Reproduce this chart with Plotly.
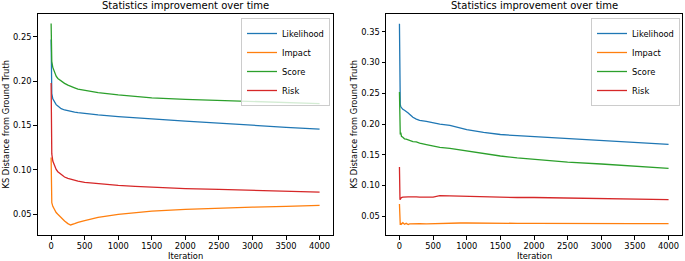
import plotly.graph_objects as go

# ---------------- data ----------------
series_names = ["Likelihood", "Impact", "Score", "Risk"]
series_colors = ["#1f77b4", "#ff7f0e", "#2ca02c", "#d62728"]

# Left panel
iter_left = [0, 1, 5, 10, 25, 50, 75, 100, 150, 200, 250, 290, 350, 400, 500,
             700, 1000, 1250, 1500, 2000, 2500, 3000, 3500, 4000]
likelihood_left = [0.247, 0.200, 0.190, 0.186, 0.180, 0.176, 0.1735, 0.172, 0.169, 0.1675,
                   0.1665, 0.166, 0.165, 0.1645, 0.1635, 0.162, 0.160, 0.1585, 0.1575,
                   0.155, 0.1525, 0.150, 0.148, 0.146]
impact_left = [0.114, 0.071, 0.066, 0.063, 0.059, 0.055, 0.052, 0.050, 0.046, 0.0425,
               0.0395, 0.038, 0.0395, 0.041, 0.043, 0.0465, 0.050, 0.052, 0.0535,
               0.0555, 0.057, 0.058, 0.059, 0.060]
score_left = [0.265, 0.240, 0.228, 0.222, 0.2155, 0.209, 0.2055, 0.203, 0.200, 0.1975,
              0.1955, 0.194, 0.1925, 0.191, 0.1895, 0.187, 0.1845, 0.1825, 0.1812,
              0.1795, 0.1785, 0.1772, 0.176, 0.1747]
risk_left = [0.198, 0.150, 0.125, 0.118, 0.110, 0.104, 0.1005, 0.098, 0.0945, 0.092,
             0.0905, 0.0895, 0.0885, 0.0875, 0.086, 0.0845, 0.0825, 0.0815, 0.0805,
             0.079, 0.078, 0.077, 0.076, 0.075]

# Right panel
iter_right = [0, 1, 3, 5, 8, 12, 20, 30, 50, 75, 100, 130, 150, 200, 250, 300, 400,
              500, 600, 750, 900, 1000, 1250, 1500, 1750, 2000, 2500, 3000, 3500, 4000]
likelihood_right = [0.363, 0.240, 0.265, 0.245, 0.238, 0.232, 0.228, 0.226, 0.224, 0.2225,
                    0.221, 0.218, 0.216, 0.211, 0.208, 0.206, 0.2045, 0.202, 0.200, 0.198,
                    0.194, 0.191, 0.1865, 0.183, 0.181, 0.1795, 0.176, 0.1725, 0.170, 0.167]
impact_right = [0.070, 0.050, 0.042, 0.037, 0.040, 0.036, 0.039, 0.037, 0.0395, 0.037,
                0.0385, 0.0365, 0.0375, 0.038, 0.038, 0.038, 0.0375, 0.038, 0.0385, 0.039,
                0.039, 0.039, 0.0385, 0.0385, 0.0385, 0.0385, 0.038, 0.038, 0.038, 0.038]
score_right = [0.252, 0.190, 0.196, 0.185, 0.192, 0.183, 0.186, 0.180, 0.1785, 0.176,
               0.1755, 0.174, 0.173, 0.1715, 0.171, 0.169, 0.1665, 0.1645, 0.162, 0.1605,
               0.158, 0.156, 0.152, 0.148, 0.145, 0.1425, 0.138, 0.135, 0.132, 0.128]
risk_right = [0.130, 0.100, 0.085, 0.079, 0.077, 0.0775, 0.079, 0.0805, 0.081, 0.0815,
              0.081, 0.0815, 0.0815, 0.082, 0.0815, 0.081, 0.0815, 0.081, 0.0835, 0.083,
              0.083, 0.0825, 0.082, 0.081, 0.0805, 0.0805, 0.0795, 0.0785, 0.078, 0.077]

x_ticks = [0, 500, 1000, 1500, 2000, 2500, 3000, 3500, 4000]
y_ticks_left = [0.05, 0.10, 0.15, 0.20, 0.25]
y_ticks_right = [0.05, 0.10, 0.15, 0.20, 0.25, 0.30, 0.35]

title_text = "Statistics improvement over time"
y_title = "KS Distance from Ground Truth"
x_title = "Iteration"

# ---------------- figure ----------------
W, H = 685, 261
FONT = "DejaVu Sans"

fig = go.Figure()

left_sets = [likelihood_left, impact_left, score_left, risk_left]
right_sets = [likelihood_right, impact_right, score_right, risk_right]

for name, color, ys in zip(series_names, series_colors, left_sets):
    fig.add_trace(go.Scatter(x=iter_left, y=ys, mode="lines", name=name,
                             line=dict(color=color, width=1.3),
                             xaxis="x", yaxis="y", legend="legend"))
for name, color, ys in zip(series_names, series_colors, right_sets):
    fig.add_trace(go.Scatter(x=iter_right, y=ys, mode="lines", name=name,
                             line=dict(color=color, width=1.3),
                             xaxis="x2", yaxis="y2", legend="legend2"))

left_dom = [37.7 / W, 333 / W]
right_dom = [386 / W, 682 / W]
y_dom = [26 / H, 247 / H]

axis_common = dict(showgrid=False, zeroline=False, showline=True, linecolor="black",
                   linewidth=1, mirror=True, ticks="outside", ticklen=3.5,
                   tickcolor="black", tickwidth=0.8,
                   tickfont=dict(family=FONT, size=8.3, color="black"))

legend_common = dict(bgcolor="rgba(255,255,255,0.8)", bordercolor="#cccccc",
                     borderwidth=1, font=dict(family=FONT, size=8.3, color="black"),
                     xanchor="right", yanchor="top", itemwidth=30,
                     tracegroupgap=0)

fig.update_layout(
    width=W, height=H,
    margin=dict(l=0, r=0, t=0, b=0),
    paper_bgcolor="white", plot_bgcolor="white",
    font=dict(family=FONT, color="black"),
    xaxis=dict(domain=left_dom, range=[-200, 4200], tickvals=x_ticks,
               anchor="y", **axis_common),
    yaxis=dict(domain=y_dom, range=[0.0267, 0.2756], tickvals=y_ticks_left,
               tickformat=".2f", anchor="x", **axis_common),
    xaxis2=dict(domain=right_dom, range=[-200, 4200], tickvals=x_ticks,
                anchor="y2", **axis_common),
    yaxis2=dict(domain=y_dom, range=[0.0195, 0.379], tickvals=y_ticks_right,
                tickformat=".2f", anchor="x2", **axis_common),
    legend=dict(x=330 / W, y=(H - 18) / H, **legend_common),
    legend2=dict(x=680 / W, y=(H - 18) / H, **legend_common),
    showlegend=True,
)

ann_font_title = dict(family=FONT, size=10, color="black")
ann_font_label = dict(family=FONT, size=8.3, color="black")
annotations = []
for dom, ylab_x in ((left_dom, 5 / W), (right_dom, 353 / W)):
    cx = (dom[0] + dom[1]) / 2
    annotations.append(dict(text=title_text, x=cx, y=(H - 6) / H, xref="paper", yref="paper",
                            xanchor="center", yanchor="middle", showarrow=False,
                            font=ann_font_title))
    annotations.append(dict(text=x_title, x=cx, y=(H - 256) / H, xref="paper", yref="paper",
                            xanchor="center", yanchor="middle", showarrow=False,
                            font=ann_font_label))
    annotations.append(dict(text=y_title, x=ylab_x, y=(y_dom[0] + y_dom[1]) / 2,
                            xref="paper", yref="paper", xanchor="center", yanchor="middle",
                            textangle=-90, showarrow=False, font=ann_font_label))
fig.update_layout(annotations=annotations)

fig.write_html(
    "out.html",
    config={"displayModeBar": False},
    post_script="document.body.style.margin='0';document.body.style.overflow='hidden';",
)
